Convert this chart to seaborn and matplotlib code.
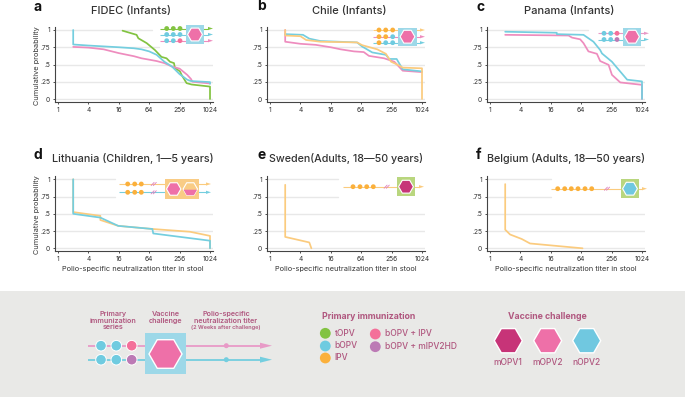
import numpy as np
import matplotlib
matplotlib.use("Agg")
import matplotlib.pyplot as plt
from matplotlib.patches import Polygon, Rectangle, Circle
import seaborn as sns

sns.set_theme(style="white")
plt.rcParams["font.family"] = ["Inter", "DejaVu Sans"]

# ---------- data ----------
fidec_green_x = [19, 36, 39, 57, 83, 112, 141, 165, 198, 207, 260, 280, 352, 443, 1024, 1024]
fidec_green_y = [.99, .93, .88, .81, .71, .61, .59, .54, .52, .45, .40, .35, .23, .21, .18, 0]
fidec_blue_x = [2, 2, 4, 16, 32, 45, 64, 90, 128, 181, 256, 362, 430, 1024, 1024]
fidec_blue_y = [1, .79, .775, .75, .735, .72, .69, .64, .54, .47, .36, .28, .26, .245, .22]
fidec_pink_x = [2, 4, 8, 16, 32, 45, 64, 90, 128, 181, 256, 362, 430, 460, 1024]
fidec_pink_y = [.755, .745, .72, .665, .62, .59, .57, .55, .52, .47, .44, .35, .29, .25, .225]

chile_pink_x = [2, 2, 4, 8, 16, 25, 46, 72, 91, 182, 290, 425, 1024]
chile_pink_y = [1, .83, .80, .785, .75, .72, .69, .68, .625, .59, .54, .41, .39]
chile_blue_x = [2, 4.5, 6, 10, 53, 67, 106, 197, 229, 322, 425, 1024]
chile_blue_y = [.94, .93, .875, .84, .82, .76, .675, .64, .58, .58, .43, .40]
chile_orange_x = [2, 2, 4, 5.2, 10, 53, 67, 133, 197, 250, 340, 425, 1024, 1024]
chile_orange_y = [1, .92, .91, .855, .83, .82, .78, .72, .655, .54, .495, .455, .445, 0]

panama_blue_x = [2, 21, 21, 71, 112, 152, 165, 260, 330, 520, 1024, 1024]
panama_blue_y = [.975, .96, .94, .93, .83, .71, .66, .54, .45, .28, .255, 0]
panama_pink_x = [2, 36, 42, 61, 71, 89, 131, 152, 223, 260, 380, 1024, 1024]
panama_pink_y = [.93, .92, .89, .865, .81, .69, .655, .55, .495, .35, .24, .205, 0]

lith_orange_x = [2, 2, 6.9, 6.9, 15.6, 74, 410, 1024, 1024]
lith_orange_y = [1, .525, .47, .41, .325, .28, .24, .18, 0]
lith_blue_x = [2, 2, 6.9, 15.6, 74, 77, 1024, 1024]
lith_blue_y = [1, .50, .445, .325, .28, .215, .11, 0]

sweden_orange_x = [2, 2, 6, 6.6]
sweden_orange_y = [.92, .165, .085, 0]

belgium_orange_x = [2, 2, 2.5, 4.25, 6.2, 68]
belgium_orange_y = [.93, .27, .20, .135, .07, 0]

y_ticks = [0, .25, .5, .75, 1]
y_tick_labels = ["0", ".25", ".5", ".75", "1"]
x_ticks = [1, 4, 16, 64, 256, 1024]
x_tick_labels = ["1", "4", "16", "64", "256", "1024"]

titles = ["FIDEC (Infants)", "Chile (Infants)", "Panama (Infants)",
          "Lithuania (Children, 1\u20145 years)", "Sweden(Adults, 18\u201450 years)",
          "Belgium (Adults, 18\u201450 years)"]
panel_letters = ["a", "b", "c", "d", "e", "f"]
y_label = "Cumulative probability"
x_label = "Polio-specific neutralization titer in stool"

legend_primary = ["tOPV", "bOPV", "IPV", "bOPV + IPV", "bOPV + mIPV2HD"]
legend_challenge = ["mOPV1", "mOPV2", "nOPV2"]

# ---------- colours ----------
GREEN = "#82C341"; BLUE = "#74CEDF"; PINK = "#EE8CBE"; ORANGE = "#FBCB7E"
DOT_O = "#FBB03B"; DOT_B = "#6FCBE0"; DOT_G = "#82C341"; DOT_R = "#F4709A"; DOT_P = "#BC7AB5"
HEX_M1 = "#C73478"; HEX_M2 = "#EE70A8"; HEX_N = "#70C8E0"
BOX_B = "#9DD8E8"; BOX_G = "#B9D67E"; BOX_O = "#F9CC85"
ARROW_P = "#E89AC7"; ARROW_B = "#74CEDF"
TXT = "#333333"; MAG = "#B0577F"; GREY = "#E9E9E7"; GRID = "#E8E8E8"

W, H = 685, 397
fig = plt.figure(figsize=(W / 100, H / 100), dpi=100, facecolor="white")


def px_axes(left, right, top, bottom):
    return fig.add_axes([left / W, 1 - bottom / H, (right - left) / W, (bottom - top) / H])


panels = [
    dict(box=(55, 213, 27, 102), series=[(fidec_green_x, fidec_green_y, GREEN), (fidec_pink_x, fidec_pink_y, PINK), (fidec_blue_x, fidec_blue_y, BLUE)],
         grid_end={1: 152, .75: 159}),
    dict(box=(267, 425, 27, 102), series=[(chile_pink_x, chile_pink_y, PINK), (chile_blue_x, chile_blue_y, BLUE), (chile_orange_x, chile_orange_y, ORANGE)],
         grid_end={1: 372}),
    dict(box=(487, 645, 27, 102), series=[(panama_pink_x, panama_pink_y, PINK), (panama_blue_x, panama_blue_y, BLUE)],
         grid_end={1: 588}),
    dict(box=(55, 213, 176.3, 251.3), series=[(lith_orange_x, lith_orange_y, ORANGE), (lith_blue_x, lith_blue_y, BLUE)],
         grid_end={1: 115, .75: 115}),
    dict(box=(267, 425, 176.3, 251.3), series=[(sweden_orange_x, sweden_orange_y, ORANGE)],
         grid_end={1: 338, .75: 338}),
    dict(box=(487, 645, 176.3, 251.3), series=[(belgium_orange_x, belgium_orange_y, ORANGE)],
         grid_end={1: 551, .75: 551}),
]

for p in panels:
    l, r, t, b = p["box"]
    ax = px_axes(l, r, t, b)
    ax.set_xscale("log", base=2)
    pad_x = 0.197
    ax.set_xlim(2 ** -pad_x, 2 ** (10 + pad_x))
    ax.set_ylim(-3 / 69, 1 + 3 / 69)
    for yv in y_ticks:
        end = p["grid_end"].get(yv, r)
        ax.axhline(yv, xmin=0, xmax=(end - l) / (r - l), color=GRID, lw=1.0, zorder=0)
    for xs, ys, c in p["series"]:
        sns.lineplot(x=xs, y=ys, color=c, ax=ax, estimator=None, sort=False, lw=1.25, legend=False, zorder=3)
    ax.set_xticks(x_ticks)
    ax.set_xticklabels(x_tick_labels)
    ax.set_yticks(y_ticks)
    ax.set_yticklabels(y_tick_labels)
    ax.minorticks_off()
    ax.tick_params(axis="both", length=1.5, width=0.6, labelsize=4.8, colors=TXT, pad=2,
                   left=True, bottom=True)
    ax.set_xlabel(""); ax.set_ylabel("")
    for s in ("top", "right"):
        ax.spines[s].set_visible(False)
    for s in ("left", "bottom"):
        ax.spines[s].set_color("#444444")
        ax.spines[s].set_linewidth(0.8)
    ax.patch.set_alpha(0)

# ---------- overlay in pixel coordinates for the schematics and text ----------
ov = fig.add_axes([0, 0, 1, 1], zorder=-5)
ov.set_xlim(0, W); ov.set_ylim(H, 0); ov.axis("off")
top = fig.add_axes([0, 0, 1, 1], zorder=10)
top.set_xlim(0, W); top.set_ylim(H, 0); top.axis("off"); top.patch.set_alpha(0)


def hexagon(cx, cy, r, color, edge="white", lw=0.8, ax=top, z=6):
    pts = [(cx + r * np.cos(a), cy + r * np.sin(a)) for a in np.deg2rad(np.arange(0, 360, 60))]
    ax.add_patch(Polygon(pts, closed=True, fc=color, ec=edge, lw=lw, zorder=z))


def half_hexagon(cx, cy, r, top_c, bot_c):
    hexagon(cx, cy, r, top_c)
    h = r * np.sqrt(3) / 2
    y0 = cy + 0.1 * r
    xw = r * (1 - (0.1 * r) / (2 * h) * 1)
    pts = [(cx - xw, y0), (cx + xw, y0), (cx + r / 2, cy + h), (cx - r / 2, cy + h)]
    top.add_patch(Polygon(pts, closed=True, fc=bot_c, ec="none", zorder=7))


def arrow_line(x0, x1, y, c, lw=0.8, head=5, hh=1.6):
    top.plot([x0, x1 - head], [y, y], color=c, lw=lw, zorder=2, solid_capstyle="butt")
    top.add_patch(Polygon([(x1 - head, y - hh), (x1, y), (x1 - head, y + hh)], closed=True, fc=c, ec="none", zorder=2))


def dots(xs, y, cs, r=2.4, edge=0):
    for x, c in zip(xs, cs):
        top.add_patch(Circle((x, y), r, fc=c, ec="white" if edge else "none", lw=edge, zorder=4))


def brk(x, y):
    for dx in (-1.1, 1.1):
        top.plot([x + dx - 1.5, x + dx + 1.5], [y + 1.6, y - 1.6], color="#E07FBE", lw=0.6, zorder=5)


# panel a inset
arrow_line(160, 213, 28.5, GREEN); arrow_line(160, 213, 34.5, BLUE); arrow_line(160, 213, 40.7, PINK)
dots([166.7, 173.3, 180], 28.5, [DOT_G] * 3)
dots([166.7, 173.3, 180], 34.5, [DOT_B] * 3)
dots([166.7, 173.3, 180], 40.7, [DOT_B, DOT_B, DOT_R])
top.add_patch(Rectangle((185.7, 25), 18.3, 19, fc=BOX_B, ec="none", zorder=3))
hexagon(195, 34.5, 7.4, HEX_M2)
# panel b inset
arrow_line(373, 425, 30, ORANGE); arrow_line(373, 425, 36.7, PINK); arrow_line(373, 425, 42.7, BLUE)
dots([379, 385.7, 392.7], 30, [DOT_O] * 3)
dots([379, 385.7, 392.7], 36.7, [DOT_O, DOT_O, DOT_B])
dots([379, 385.7, 392.7], 42.7, [DOT_O, DOT_B, DOT_B])
top.add_patch(Rectangle((398.3, 27.7), 18.4, 18, fc=BOX_B, ec="none", zorder=3))
hexagon(407.5, 36.7, 7.4, HEX_M2)
# panel c inset
arrow_line(598, 649, 33.3, ARROW_P); arrow_line(598, 649, 39.5, BLUE)
dots([604, 610.7, 617], 33.3, [DOT_B, DOT_B, DOT_R])
dots([604, 610.7, 617], 39.5, [DOT_B, DOT_B, DOT_P])
top.add_patch(Rectangle((623, 27.7), 18, 18, fc=BOX_B, ec="none", zorder=3))
hexagon(632, 36.7, 7.4, HEX_M2)
# panel d inset
arrow_line(119, 211, 184, ORANGE); arrow_line(119, 211, 192.3, BLUE)
dots([127.7, 134.7, 141.3], 184, [DOT_O] * 3)
dots([127.7, 134.7, 141.3], 192.3, [DOT_O] * 3)
brk(153.7, 184); brk(153.7, 192.3)
top.add_patch(Rectangle((165, 179.3), 34, 19.4, fc=BOX_O, ec="none", zorder=3))
hexagon(173.7, 189, 7.2, HEX_M2)
half_hexagon(190.3, 189, 7.2, BOX_O, HEX_M2)
# panel e inset
arrow_line(343, 424, 186.7, ORANGE)
dots([353, 360, 366.7, 373.3], 186.7, [DOT_O] * 4)
brk(386.7, 186.7)
top.add_patch(Rectangle((396.7, 177), 18.3, 18.7, fc=BOX_G, ec="none", zorder=3))
hexagon(406, 186.7, 7.4, HEX_M1)
# panel f inset
arrow_line(551, 647, 188.7, ORANGE)
dots([557.7, 564.7, 571.3, 578, 585, 591.7], 188.7, [DOT_O] * 6)
brk(607, 188.7)
top.add_patch(Rectangle((621, 179.3), 18.3, 18.7, fc=BOX_G, ec="none", zorder=3))
hexagon(630, 188.7, 7.4, HEX_N)

# panel titles, letters and axis labels
title_pos = [(131, 10.7), (349, 10.7), (569, 10.7), (133, 159), (345.7, 159), (566, 159)]
title_size = [8.0, 8.0, 8.0, 7.8, 7.7, 7.75]
for s, (x, y), fs in zip(titles, title_pos, title_size):
    top.text(x, y, s, ha="center", va="center", fontsize=fs, color="#333333", fontweight="medium")
letter_pos = [(38, 7), (262, 6), (481, 7), (38, 155), (262, 155), (479, 155)]
for s, (x, y) in zip(panel_letters, letter_pos):
    top.text(x, y, s, ha="center", va="center", fontsize=10, color="#111111", fontweight="bold")
for yc in (66, 215):
    top.text(37, yc, y_label, rotation=90, ha="center", va="center", fontsize=5.3, color=TXT)
for xc in (133, 345.7, 566):
    top.text(xc, 268.7, x_label, ha="center", va="center", fontsize=5.3, color=TXT)

# bottom band
ov.add_patch(Rectangle((0, 291), W, 106, fc=GREY, ec="none"))

# schematic
arrow_line(88, 272, 345.7, ARROW_P, lw=1.3, head=12, hh=3)
arrow_line(88, 272, 359.7, BLUE, lw=1.3, head=12, hh=3)
dots([101, 116.3, 131.7], 345.7, [DOT_B, DOT_B, DOT_R], r=5.3, edge=0.7)
dots([101, 116.3, 131.7], 359.7, [DOT_B, DOT_B, DOT_P], r=5.3, edge=0.7)
for c_, y_ in ((ARROW_P, 345.7), (BLUE, 359.7)):
    top.add_patch(Circle((226.3, y_), 2.5, fc=c_, ec="none", zorder=4))
top.add_patch(Rectangle((145, 333), 41, 41, fc=BOX_B, ec="none", zorder=3))
hexagon(165.5, 354, 16.5, HEX_M2, lw=1.0)

kw = dict(ha="center", va="center", color=MAG, fontweight="semibold", fontsize=5.2)
for s, y in zip(["Primary", "immunization", "series"], (313.7, 320.7, 327.2)):
    top.text(113, y, s, **kw)
for s, y in zip(["Vaccine", "challenge"], (313.7, 320.7)):
    top.text(165.5, y, s, **kw)
for s, y in zip(["Polio-specific", "neutralization titer"], (314, 321)):
    top.text(226, y, s, **kw)
top.text(226, 328, "(2 Weeks after challenge)", ha="center", va="center", color=MAG, fontweight="semibold", fontsize=4.0)

# legends
top.text(369, 316.3, "Primary immunization", ha="center", va="center", color=MAG, fontweight="bold", fontsize=6.3)
prim_pos = [(325.3, 333.3), (325.3, 346), (325.3, 358), (375.3, 334), (375.3, 346.7)]
prim_cols = [DOT_G, DOT_B, DOT_O, DOT_R, DOT_P]
for s, (x, y), c in zip(legend_primary, prim_pos, prim_cols):
    top.add_patch(Circle((x, y), 5.4, fc=c, ec="none", zorder=4))
    top.text(x + 9.3, y, s, ha="left", va="center", color=MAG, fontweight="medium", fontsize=6.1)
top.text(547.7, 316.3, "Vaccine challenge", ha="center", va="center", color=MAG, fontweight="bold", fontsize=6.3)
for s, x, c in zip(legend_challenge, (508.3, 547.7, 586.7), (HEX_M1, HEX_M2, HEX_N)):
    hexagon(x, 340.7, 14, c, lw=1.0)
    top.text(x, 362.3, s, ha="center", va="center", color=MAG, fontweight="medium", fontsize=6.1)

fig.savefig("out.png", dpi=100)
